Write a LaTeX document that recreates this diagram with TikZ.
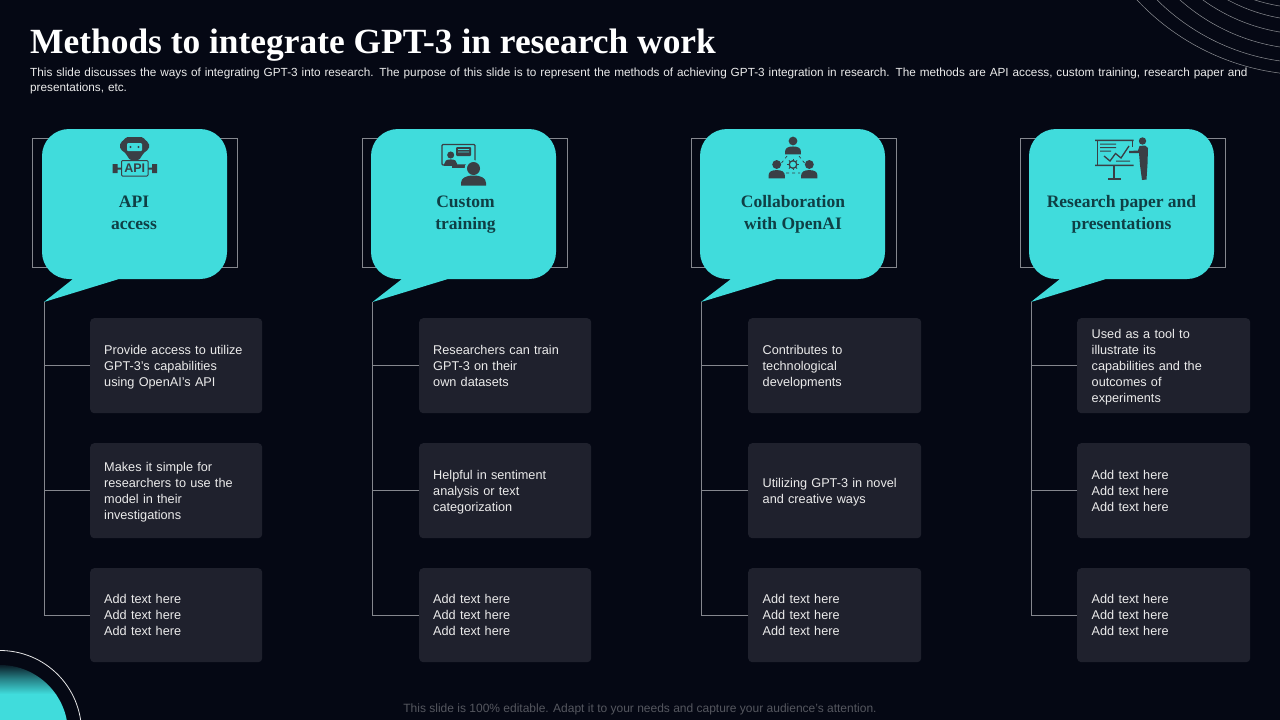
\documentclass[tikz,border=0pt]{standalone}
\usepackage{fontspec}
\setmainfont{Liberation Sans}
\newfontfamily\headfont{Liberation Serif}
\usetikzlibrary{calc,shadings}
\definecolor{bgdark}{HTML}{050814}
\definecolor{teal1}{HTML}{40DCDC}
\definecolor{boxdark}{HTML}{1F212D}
\definecolor{icondark}{HTML}{3A3F45}
\definecolor{headdark}{HTML}{0F3F45}
\definecolor{linegray}{HTML}{85878E}
\tikzset{
  x=1pt,y=-1pt,
  itembox/.style={fill=boxdark,draw=none,rounded corners=4pt,anchor=north west,inner xsep=14pt,inner ysep=0pt,
    text width=144pt,align=left,text=white!92!black,font=\fontsize{12.7}{16}\selectfont},
  headtext/.style={align=center,text=headdark,font=\headfont\bfseries\fontsize{17.5}{22}\selectfont,inner sep=0pt},
  bracketline/.style={draw=linegray,line width=0.6pt},
  stem/.style={draw=linegray,line width=0.6pt},
  ring/.style={draw=white!55!bgdark,line width=0.5pt},
  iconline/.style={draw=icondark,line width=1pt,fill=none},
}
\newcommand{\bubble}[7]{% id, bubble x, bracket x, tip x, heading x, line 1, line 2
  \draw[bracketline] (#3+0.5,138.5) rectangle (#3+205.5,267.5);
  \coordinate (tip#1) at (#4,302);
  \fill[teal1] (#2+27,129) -- (#2+158,129) arc[start angle=90,end angle=0,x radius=27,y radius=-27]
    -- (#2+185,252) arc[start angle=0,end angle=-90,x radius=27,y radius=-27]
    -- (#2+77,279) -- (tip#1) -- (#2+31,279) -- (#2+27,279)
    arc[start angle=-90,end angle=-180,x radius=27,y radius=-27]
    -- (#2,156) arc[start angle=180,end angle=90,x radius=27,y radius=-27] -- cycle;
  \node[headtext] (head#1) at (#5,214) {\strut #6\\\strut #7};
}
\newcommand{\itemrow}[6]{% id, x, y, width, height, text
  \node[itembox,minimum width=#4,minimum height=#5] (#1) at (#2,#3) {\rule{0pt}{13pt}#6\rule[-4pt]{0pt}{4pt}};
}
\newcommand{\personicon}[3]{% x, y (head centre), scale
  \begin{scope}[shift={(#1,#2)},scale=#3]
    \fill[icondark] (0,0) circle[radius=5.2];
    \fill[icondark] (-9.5,16) -- (-9.5,13) .. controls (-9.5,8.5) and (-6,6.5) .. (0,6.5)
      .. controls (6,6.5) and (9.5,8.5) .. (9.5,13) -- (9.5,16) -- cycle;
  \end{scope}
}
\begin{document}
\begin{tikzpicture}
\useasboundingbox (0,0) rectangle (1280,720);
\clip (0,0) rectangle (1280,720);
\fill[bgdark] (0,0) rectangle (1280,720);

% decoration top right
\foreach \c/\r in {162/237,154/217,146.7/196,148.8/183.3,152.8/173.4,174/182.5}
  \draw[ring] (1310,-\c) circle[radius=\r];
% decoration bottom left
\begin{scope}
  \clip (0,733) circle[radius=68];
  \shade[top color=bgdark,bottom color=teal1,middle color=teal1!55!bgdark] (-5,662) rectangle (75,694);
  \fill[teal1] (-5,693.5) rectangle (75,740);
\end{scope}
\draw[ring,line width=0.8pt,draw=white!90!bgdark] (0,732) circle[radius=81.5];

% title
\node[anchor=west,inner sep=0pt,text=white,font=\headfont\bfseries\fontsize{35.4}{40}\selectfont] (title) at (30,45)
  {Methods to integrate GPT-3 in research work};
\node[anchor=north west,inner sep=0pt,text width=1240pt,align=left,text=white!92!black,font=\fontsize{11.77}{15}\selectfont] (subtitle) at (30,67.5)
  {This slide discusses the ways of integrating GPT-3 into research. The purpose of this slide is to represent the methods of achieving GPT-3 integration in research. The methods are API access, custom training, research paper and\\presentations, etc.};
\node[anchor=center,inner sep=0pt,text=white!32!bgdark,font=\fontsize{12}{15}\selectfont] (footer) at (640,709)
  {This slide is 100\% editable. Adapt it to your needs and capture your audience's attention.};

% bubbles
\bubble{A}{42}{32}{44}{134}{API}{access}
\bubble{B}{371}{362}{372.5}{465.5}{Custom}{training}
\bubble{C}{700}{691}{701}{793}{Collaboration}{with OpenAI}
\bubble{D}{1029}{1020}{1031}{1121.5}{Research paper and}{presentations}

% item boxes
\itemrow{a1}{90}{318}{172pt}{95pt}{Provide access to utilize\\GPT-3's capabilities\\using OpenAI's API}
\itemrow{a2}{90}{443}{172pt}{95pt}{Makes it simple for\\researchers to use the\\model in their\\investigations}
\itemrow{a3}{90}{568}{172pt}{94pt}{Add text here\\Add text here\\Add text here}
\itemrow{b1}{419}{318}{172pt}{95pt}{Researchers can train\\GPT-3 on their\\own datasets}
\itemrow{b2}{419}{443}{172pt}{95pt}{Helpful in sentiment\\analysis or text\\categorization}
\itemrow{b3}{419}{568}{172pt}{94pt}{Add text here\\Add text here\\Add text here}
\itemrow{c1}{748}{318}{173pt}{95pt}{Contributes to\\technological\\developments}
\itemrow{c2}{748}{443}{173pt}{95pt}{Utilizing GPT-3 in novel\\and creative ways}
\itemrow{c3}{748}{568}{173pt}{94pt}{Add text here\\Add text here\\Add text here}
\itemrow{d1}{1077}{318}{173pt}{95pt}{Used as a tool to\\illustrate its\\capabilities and the\\outcomes of\\experiments}
\itemrow{d2}{1077}{443}{173pt}{95pt}{Add text here\\Add text here\\Add text here}
\itemrow{d3}{1077}{568}{173pt}{94pt}{Add text here\\Add text here\\Add text here}

% connectors
\foreach \t/\p in {A/a,B/b,C/c,D/d}{
  \draw[stem] (tip\t) |- (\p3.west);
  \draw[stem] (tip\t) |- (\p1.west);
  \draw[stem] (tip\t) |- (\p2.west);
}

% icon: robot
\begin{scope}[shift={(134.5,0)}]
  \fill[icondark,rounded corners=2pt] (-9,137) -- (9,137) -- (11,141) -- (14.5,142.5) -- (14.5,149.5) -- (11,151) -- (7,156) -- (4.5,160.5) -- (-4.5,160.5) -- (-7,156) -- (-11,151) -- (-14.5,149.5) -- (-14.5,142.5) -- (-11,141) -- cycle;
  \fill[teal1,rounded corners=1pt] (-7.5,143) rectangle (7.5,151);
  \fill[icondark] (-4,147) circle[radius=1.2] (4,147) circle[radius=1.2];
  \draw[icondark,line width=1pt,rounded corners=1pt] (-13,160.5) rectangle (13.5,176);
  \fill[icondark] (-22,164) rectangle (-17,173) (17.5,164) rectangle (22.5,173) (-17,167.5) rectangle (-13,169.5) (13.5,167.5) rectangle (17.5,169.5);
  \node[inner sep=0pt,text=icondark,font=\bfseries\fontsize{12.5}{12.5}\selectfont] (apiicon) at (0.2,168.5) {API};
\end{scope}

% icon: custom training
\draw[iconline,line width=1.1pt,rounded corners=1pt] (442,144.5) rectangle (475,165);
\fill[icondark] (452,165) rectangle (465,168);
\fill[icondark,rounded corners=1pt] (456,147) rectangle (471,156);
\fill[teal1] (458,149) rectangle (469,149.9) (458,151.5) rectangle (469,152.4);
\personicon{450.7}{155}{0.68}
\fill[teal1] (473.5,169) circle[radius=9];
\fill[teal1] (460,176) rectangle (488,186);
\fill[icondark] (473.5,168.5) circle[radius=6.5];
\fill[icondark] (461,185.5) -- (461,183) .. controls (461,178) and (466,175.5) .. (473.5,175.5)
  .. controls (481,175.5) and (486,178) .. (486,183) -- (486,185.5) -- cycle;

% icon: collaboration
\personicon{793}{141}{0.84}
\personicon{776.7}{164.5}{0.86}
\personicon{809.3}{164.5}{0.86}
\draw[icondark,line width=0.7pt,dashed] (787,156) -- (781.5,163) (799,156) -- (804.5,163) (786,173) -- (800,173);
\draw[icondark,line width=1.3pt] (793,164.5) circle[radius=3.8];
\foreach \a in {0,45,...,315}
  \draw[icondark,line width=1pt] (793,164.5) ++(\a:4) -- ++(\a:1.8);

% icon: research presentation
\begin{scope}
  \fill[icondark] (1095,139.5) rectangle (1133.5,141) (1095,164.5) rectangle (1133.5,166);
  \draw[icondark,line width=1pt] (1097,141) -- (1097,165) (1132,141) -- (1132,147);
  \draw[icondark,line width=1.2pt] (1114,166) -- (1114,179);
  \fill[icondark] (1107.5,178) rectangle (1121,180);
  \fill[icondark] (1100,143.5) rectangle (1116,144.5) (1100,147) rectangle (1116,148) (1100,150.5) rectangle (1111,151.5) (1116,160.5) rectangle (1130,161.5);
  \draw[icondark,line width=1.3pt] (1104,156) -- (1110,161) -- (1115.5,153.5) -- (1121,158) -- (1129,146);
  \fill[icondark] (1142.5,141) circle[radius=3.7];
  \fill[icondark] (1129,151) -- (1138,150.5) -- (1139.5,146) -- (1145,145.5) -- (1148,148) -- (1147.5,164) -- (1146.5,179.5) -- (1142,180) -- (1140,165) -- (1139,153) -- (1129,153) -- cycle;
\end{scope}
\end{tikzpicture}
\end{document}
